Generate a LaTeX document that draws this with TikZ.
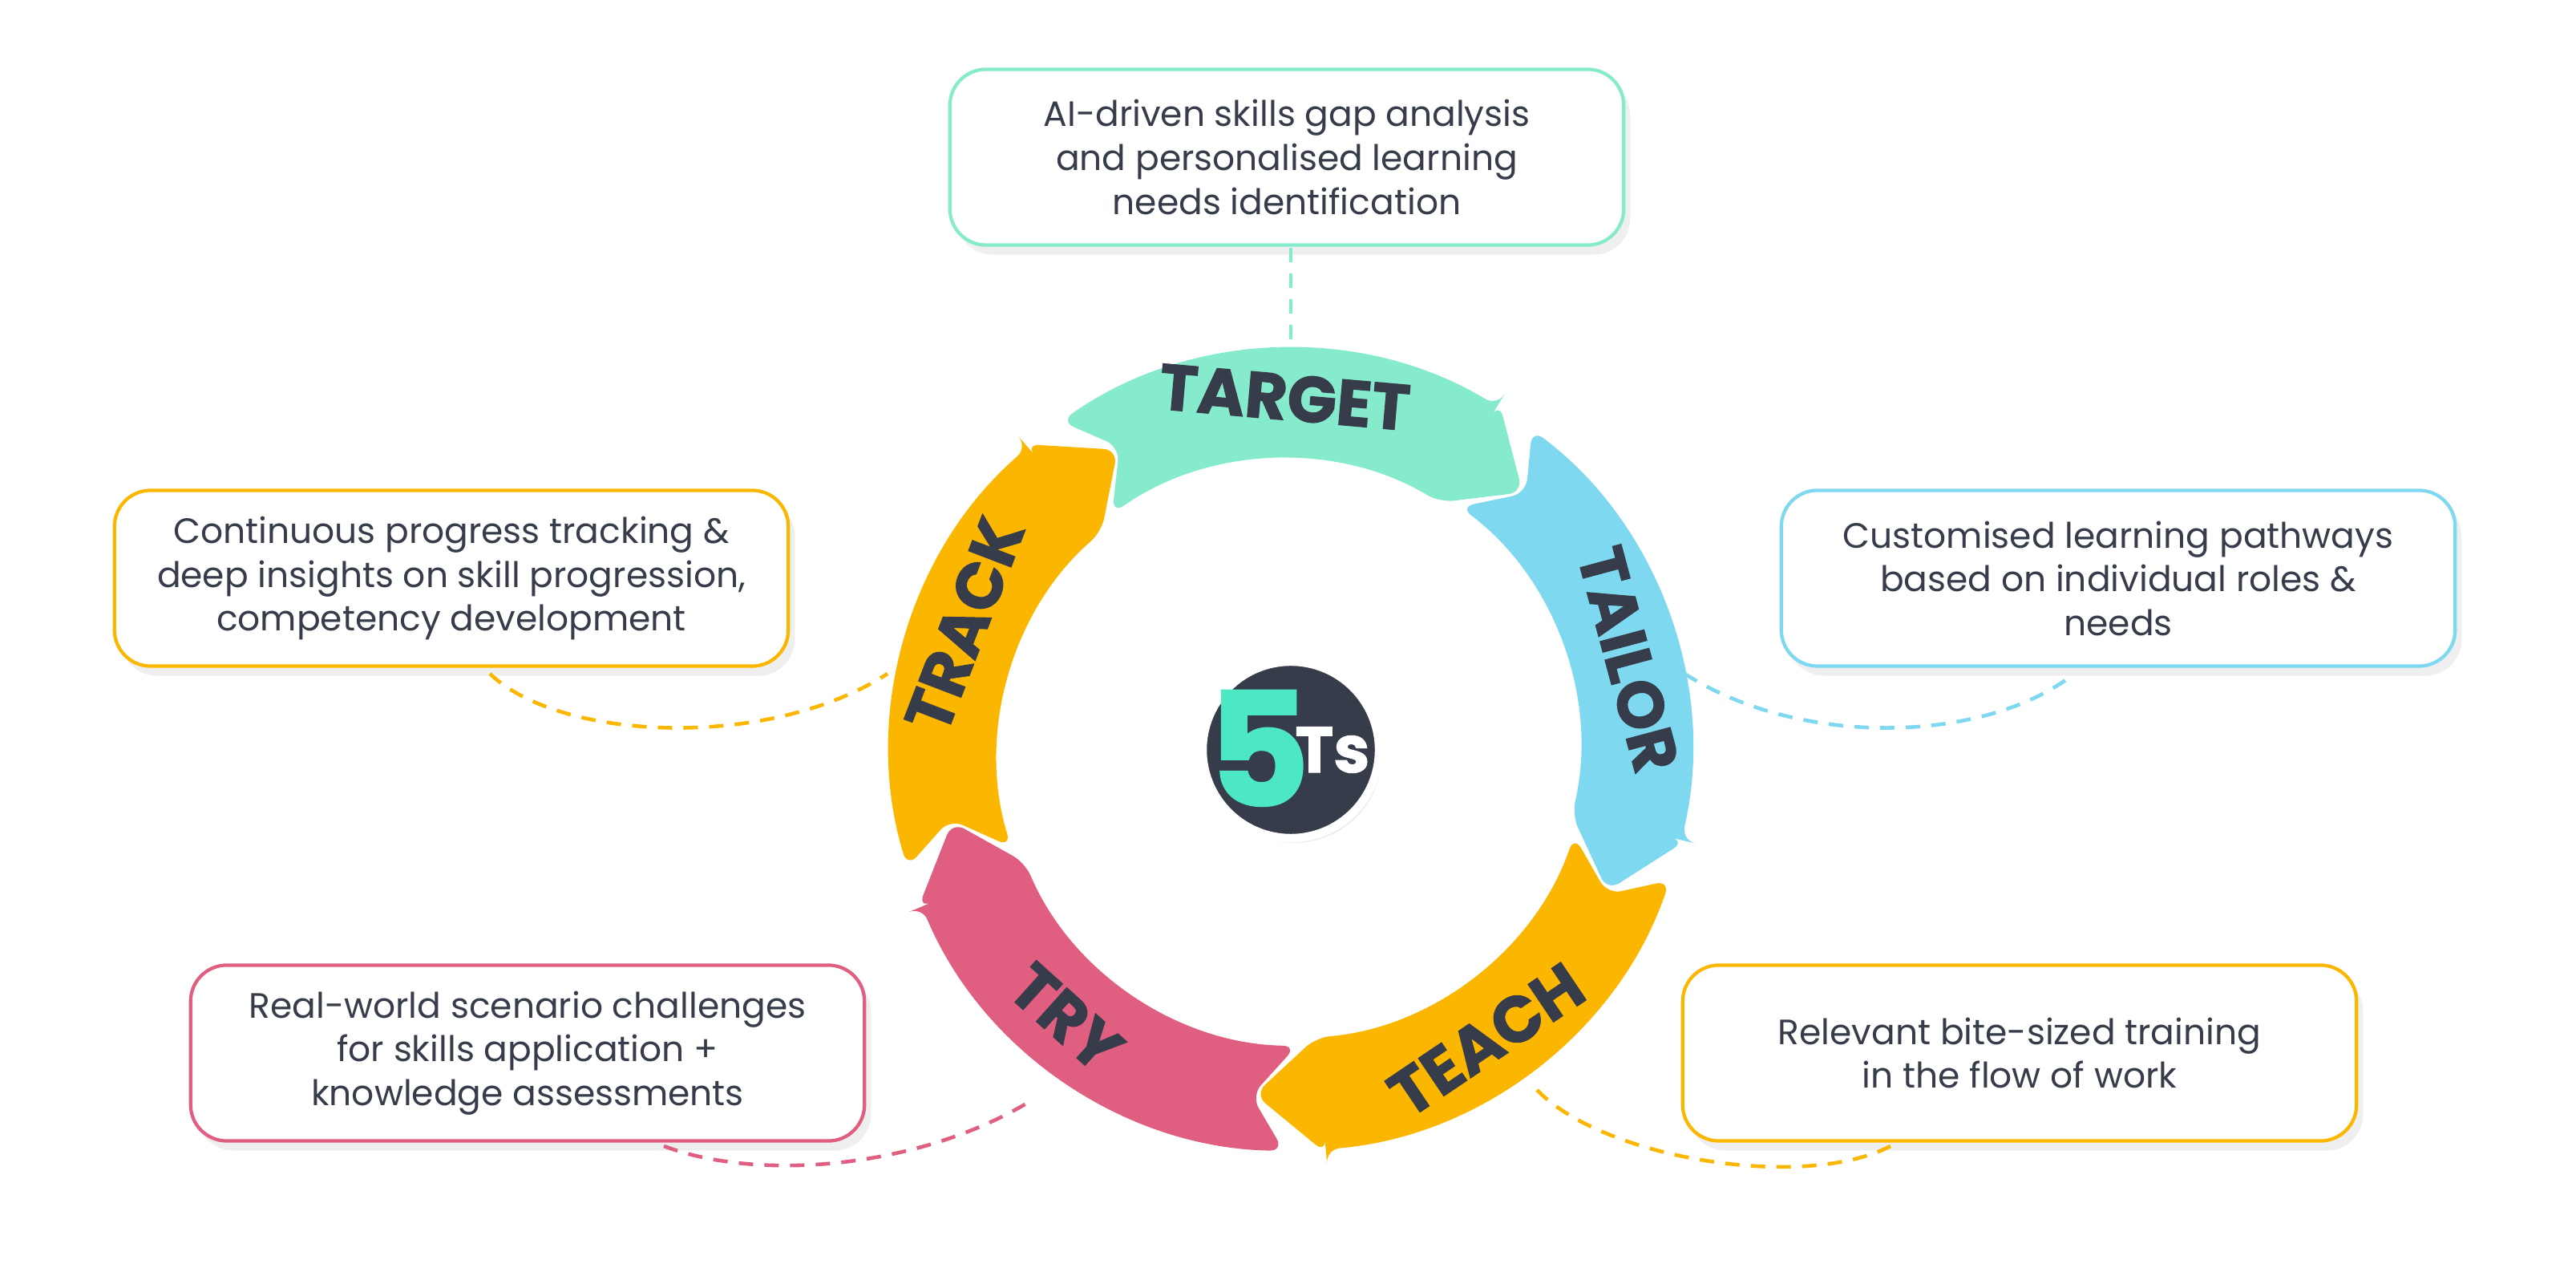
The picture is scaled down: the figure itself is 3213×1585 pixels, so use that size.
\documentclass[tikz,border=0pt]{standalone}
\usepackage{fontspec}
\setmainfont{Poppins}
\newfontfamily\heavy{Poppins}[BoldFeatures={FakeBold=1.3}]
\usetikzlibrary{shadows}
\definecolor{cgreen}{HTML}{86EACD}
\definecolor{cblue}{HTML}{7DD8F0}
\definecolor{corange}{HTML}{FBB600}
\definecolor{cpink}{HTML}{E05E80}
\definecolor{cdark}{HTML}{363C4A}
\definecolor{cfive}{HTML}{4BE8C3}
\begin{document}
\begin{tikzpicture}[x=0.01cm,y=0.01cm,
  box/.style={draw=#1,line width=1.2pt,fill=white,rounded corners=0.45cm,minimum width=8.4cm,minimum height=2.19cm,align=center,text=cdark,font=\fontsize{12.5}{15.5}\selectfont,drop shadow={opacity=0.12,shadow xshift=0.08cm,shadow yshift=-0.12cm}},
  conn/.style={draw=#1,line width=1.3pt,dash pattern=on 0.18cm off 0.14cm},
  lab/.style={text=cdark,font=\fontsize{23}{23}\selectfont\heavy\bfseries}]
\useasboundingbox (0,0) rectangle (3213,1585);
\fill[white] (0,0) rectangle (3213,1585);
% ring
\begin{scope}[shift={(1610,650)},rounded corners=5]
\newcommand{\ringarrow}[3]{%
  \fill[#3] (#1:500) arc[start angle=#1,end angle=#2,radius=500] -- (#2:505) -- ({#2-11}:432) -- (#2:360) arc[start angle=#2,end angle=#1,radius=375] -- ({#1-5.5}:434) -- cycle;}
\ringarrow{125}{59}{cgreen}
\ringarrow{53}{-13}{cblue}
\ringarrow{-19}{-85}{corange}
\ringarrow{-91}{-157}{cpink}
\ringarrow{197}{131}{corange}
\node[lab,rotate=-5] (lTarget) at (91:440) {TARGET};
\node[lab,rotate=-75] (lTailor) at (15:436) {TAILOR};
\node[lab,rotate=34] (lTeach) at (-56:436) {TEACH};
\node[lab,rotate=-42] (lTry) at (-130:436) {TRY};
\node[lab,rotate=69] (lTrack) at (159:436) {TRACK};
\end{scope}
% center
\node[circle,fill=cdark,draw=white,line width=3pt,minimum size=2.2cm,drop shadow={opacity=0.15,shadow xshift=0.04cm,shadow yshift=-0.06cm}] (center) at (1610,650) {};
\node[text=cfive,font=\fontsize{56}{56}\selectfont\heavy\bfseries] (five) at (1570,652) {5};
\node[text=white,font=\fontsize{23}{23}\selectfont\heavy\bfseries] (ts) at (1662,650) {Ts};
% boxes
\node[box=cgreen] (bTop) at (1605,1389) {AI-driven skills gap analysis\\and personalised learning\\needs identification};
\node[box=corange] (bLeft) at (563,864) {Continuous progress tracking \&\\deep insights on skill progression,\\competency development};
\node[box=cblue] (bRight) at (2642,864) {Customised learning pathways\\based on individual roles \&\\needs};
\node[box=cpink] (bBL) at (658,272) {Real-world scenario challenges\\for skills application +\\knowledge assessments};
\node[box=corange] (bBR) at (2519,272) {Relevant bite-sized training\\in the flow of work};
% connectors
\coordinate (cL) at (611,745);
\coordinate (cR) at (2587,745);
\coordinate (cBL) at (828,156);
\coordinate (cBR) at (2358,156);
\coordinate (cT) at (1610,1276);
\coordinate (rT) at (1610,1140);
\coordinate (rL) at (1107,745);
\coordinate (rR) at (2101,745);
\coordinate (rBL) at (1285,212);
\coordinate (rBR) at (1917,226);
\draw[conn=cgreen] (cT) -- (rT);
\draw[conn=corange] (cL) .. controls (700,660) and (960,650) .. (rL);
\draw[conn=cblue] (rR) .. controls (2250,650) and (2480,660) .. (cR);
\draw[conn=cpink] (cBL) .. controls (950,110) and (1150,130) .. (rBL);
\draw[conn=corange] (rBR) .. controls (2000,140) and (2250,100) .. (cBR);
\end{tikzpicture}
\end{document}
